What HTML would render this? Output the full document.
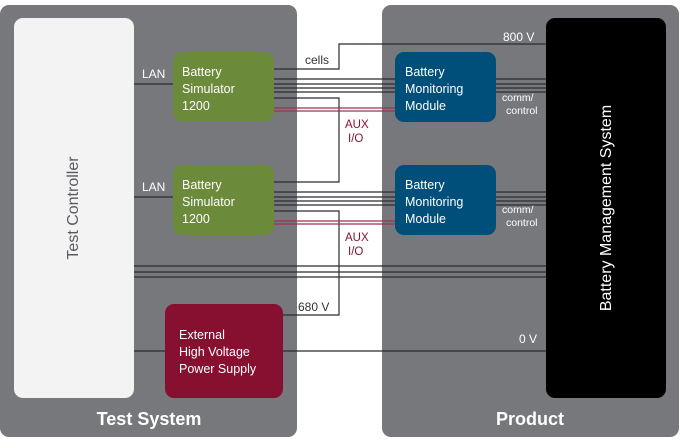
<!DOCTYPE html>
<html><head><style>
body{margin:0;background:#fff;width:684px;height:443px;overflow:hidden}
text{font-family:"Liberation Sans",sans-serif}
</style></head><body>
<svg width="684" height="443" viewBox="0 0 684 443" xmlns="http://www.w3.org/2000/svg">
<rect x="0" y="5" width="297" height="432" rx="9" fill="#77787c"/>
<rect x="382" y="5" width="297" height="432" rx="9" fill="#77787c"/>
<rect x="14" y="18" width="120" height="380" rx="9" fill="#f3f3f4"/>
<rect x="546" y="18" width="120" height="380" rx="9" fill="#000"/>
<g stroke="#2b2b30" stroke-width="1.2" fill="none">
<line x1="134" y1="84" x2="173" y2="84"/>
<line x1="134" y1="197" x2="173" y2="197"/>
<polyline points="274,69 339,69 339,44 546,44"/>
<line x1="274" y1="79" x2="546" y2="79"/>
<line x1="274" y1="84" x2="395" y2="84"/>
<line x1="274" y1="88" x2="546" y2="88"/>
<line x1="274" y1="92" x2="395" y2="92"/>
<line x1="496" y1="84" x2="546" y2="84"/>
<line x1="496" y1="92" x2="546" y2="92"/>
<polyline points="274,98 339,98 339,182 274,182"/>
<line x1="274" y1="192" x2="546" y2="192"/>
<line x1="274" y1="197" x2="395" y2="197"/>
<line x1="274" y1="201" x2="546" y2="201"/>
<line x1="274" y1="205" x2="395" y2="205"/>
<line x1="496" y1="197" x2="546" y2="197"/>
<line x1="496" y1="205" x2="546" y2="205"/>
<polyline points="274,211 339,211 339,315 283,315"/>
<line x1="134" y1="266" x2="546" y2="266"/>
<line x1="134" y1="272" x2="546" y2="272"/>
<line x1="134" y1="277" x2="546" y2="277"/>
<line x1="134" y1="351" x2="165" y2="351"/>
<line x1="283" y1="351" x2="546" y2="351"/>
</g>
<g stroke="#a0304f" stroke-width="1.2">
<line x1="274" y1="108" x2="395" y2="108"/>
<line x1="274" y1="111" x2="395" y2="111"/>
<line x1="274" y1="221" x2="395" y2="221"/>
<line x1="274" y1="224" x2="395" y2="224"/>
</g>
<rect x="173" y="52" width="101" height="69" rx="9" fill="#6b8a3a"/>
<rect x="173" y="165" width="101" height="70" rx="9" fill="#6b8a3a"/>
<rect x="395" y="52" width="101" height="70" rx="9" fill="#004e7a"/>
<rect x="395" y="165" width="101" height="70" rx="9" fill="#004e7a"/>
<rect x="165" y="304" width="118" height="94" rx="9" fill="#871031"/>
<g fill="#fff" font-size="12.5">
<text x="182" y="76">Battery</text><text x="182" y="93">Simulator</text><text x="182" y="110">1200</text>
<text x="182" y="189">Battery</text><text x="182" y="206">Simulator</text><text x="182" y="223">1200</text>
<text x="405" y="76">Battery</text><text x="405" y="93">Monitoring</text><text x="405" y="110">Module</text>
<text x="405" y="189">Battery</text><text x="405" y="206">Monitoring</text><text x="405" y="223">Module</text>
<text x="179" y="339">External</text><text x="179" y="356">High Voltage</text><text x="179" y="373">Power Supply</text>
</g>
<g fill="#fff" font-size="12">
<text x="142" y="78">LAN</text><text x="142" y="191">LAN</text>
<text x="503" y="41">800 V</text>
<text x="519" y="343">0 V</text>
</g>
<g fill="#fff" font-size="10.5">
<text x="502" y="101">comm/</text><text x="506" y="114">control</text>
<text x="502" y="213">comm/</text><text x="506" y="226">control</text>
</g>
<g fill="#333" font-size="12">
<text x="305" y="64">cells</text>
<text x="298" y="311">680 V</text>
</g>
<g fill="#8a1232" font-size="11.5">
<text x="345" y="128">AUX</text><text x="348" y="142">I/O</text>
<text x="345" y="241">AUX</text><text x="348" y="255">I/O</text>
</g>
<text transform="translate(78,208) rotate(-90)" text-anchor="middle" fill="#5a5b60" font-size="16">Test Controller</text>
<text transform="translate(611,208) rotate(-90)" text-anchor="middle" fill="#fff" font-size="16">Battery Management System</text>
<text x="149" y="425" text-anchor="middle" fill="#fff" font-size="18" font-weight="bold">Test System</text>
<text x="530" y="425" text-anchor="middle" fill="#fff" font-size="18" font-weight="bold">Product</text>
</svg>
</body></html>
